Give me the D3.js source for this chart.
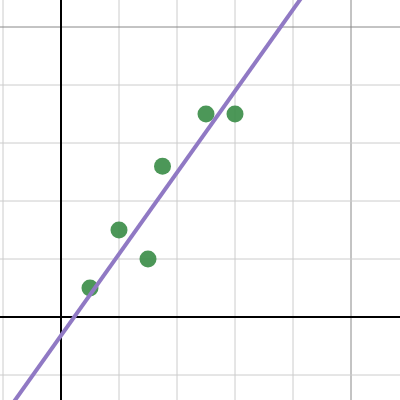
<!DOCTYPE html>
<html>
<head>
<script src="https://cdn.jsdelivr.net/npm/d3@7"></script>
<style>body{margin:0;background:#fff}</style>
</head>
<body>
<svg id="chart" width="400" height="400"></svg>
<script>
var xs = [0.5, 1, 1.5, 1.75, 2.5, 3];
var ys = [0.5, 1.5, 1, 2.6, 3.5, 3.5];
var slope = 1.405, intercept = -0.32;
var gridVals = [-1, 0, 1, 2, 3, 4, 5, 6];

var svg = d3.select("#chart");
var x = d3.scaleLinear().domain([-61 / 58, 339 / 58]).range([0, 400]);
var y = d3.scaleLinear().domain([-83 / 58, 317 / 58]).range([400, 0]);

// grid
svg.selectAll("line.gx").data(gridVals).enter().append("line")
  .attr("x1", d => x(d)).attr("x2", d => x(d)).attr("y1", 0).attr("y2", 400)
  .attr("stroke", d => d % 5 === 0 ? "#888" : "#ccc").attr("stroke-width", 1);
svg.selectAll("line.gy").data(gridVals).enter().append("line")
  .attr("y1", d => y(d)).attr("y2", d => y(d)).attr("x1", 0).attr("x2", 400)
  .attr("stroke", d => d % 5 === 0 ? "#888" : "#ccc").attr("stroke-width", 1);

// axes
svg.append("line").attr("x1", x(0)).attr("x2", x(0)).attr("y1", 0).attr("y2", 400)
  .attr("stroke", "#000").attr("stroke-width", 2);
svg.append("line").attr("y1", y(0)).attr("y2", y(0)).attr("x1", 0).attr("x2", 400)
  .attr("stroke", "#000").attr("stroke-width", 2);

// points
svg.selectAll("circle").data(xs).enter().append("circle")
  .attr("cx", d => x(d)).attr("cy", (d, i) => y(ys[i])).attr("r", 8.5)
  .attr("fill", "#388c46").attr("fill-opacity", 0.9);

// regression line
var x0 = -2, x1 = 7;
svg.append("line")
  .attr("x1", x(x0)).attr("y1", y(slope * x0 + intercept))
  .attr("x2", x(x1)).attr("y2", y(slope * x1 + intercept))
  .attr("stroke", "#9079c4").attr("stroke-width", 4);
</script>
</body>
</html>
